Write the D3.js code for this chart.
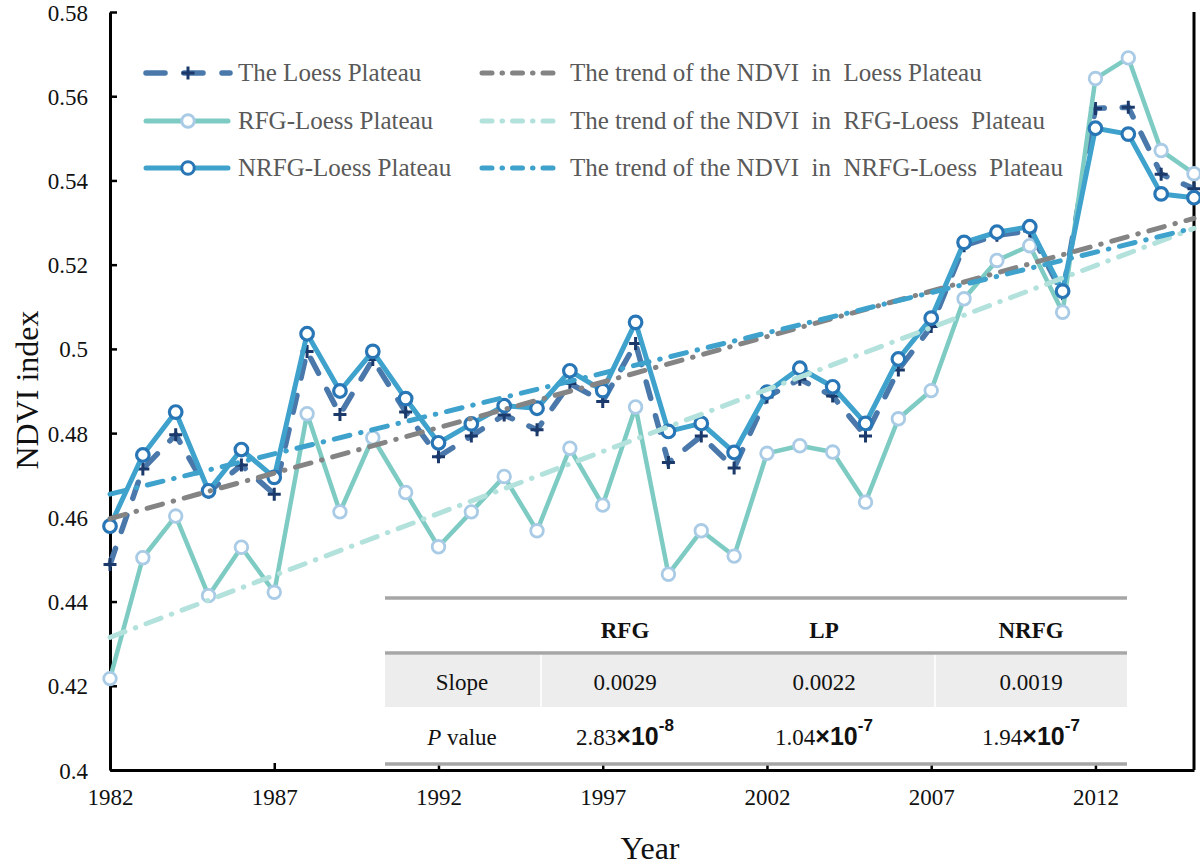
<!DOCTYPE html>
<html>
<head>
<meta charset="utf-8">
<script src="https://cdn.jsdelivr.net/npm/d3@7"></script>
<style>
  html, body { margin: 0; padding: 0; background: #fff; }
  svg { display: block; }
  text { font-family: "Liberation Serif", "Times New Roman", serif; white-space: pre; }
</style>
</head>
<body>
<svg id="chart" width="1200" height="867"></svg>
<script>
// ---------------- data ----------------
const years = [1982,1983,1984,1985,1986,1987,1988,1989,1990,1991,1992,1993,1994,1995,1996,1997,1998,1999,2000,2001,2002,2003,2004,2005,2006,2007,2008,2009,2010,2011,2012,2013,2014,2015];
const lpValues = [0.4488,0.4715,0.4796,0.4660,0.4724,0.4655,0.4994,0.4844,0.4975,0.4850,0.4744,0.4793,0.4843,0.4808,0.4918,0.4875,0.5013,0.4730,0.4793,0.4717,0.4886,0.4928,0.4888,0.4793,0.4950,0.5053,0.5245,0.5270,0.5280,0.5131,0.5571,0.5574,0.5415,0.5380];
const rfgValues = [0.4217,0.4504,0.4603,0.4414,0.4529,0.4422,0.4846,0.4613,0.4789,0.4659,0.4530,0.4613,0.4697,0.4568,0.4764,0.4629,0.4862,0.4465,0.4568,0.4508,0.4752,0.4770,0.4755,0.4636,0.4834,0.4901,0.5119,0.5210,0.5245,0.5087,0.5642,0.5691,0.5471,0.5416];
const nrfgValues = [0.4579,0.4748,0.4850,0.4663,0.4761,0.4695,0.5036,0.4900,0.4994,0.4882,0.4777,0.4822,0.4865,0.4859,0.4948,0.4901,0.5063,0.4804,0.4823,0.4754,0.4897,0.4954,0.4910,0.4823,0.4976,0.5073,0.5253,0.5277,0.5290,0.5137,0.5524,0.5510,0.5368,0.5359];

// trend lines: value at first year and last year
const trendNames = ["LP", "RFG", "NRFG"];
const trendStart = [0.4597, 0.4315, 0.4655];
const trendEnd   = [0.5310, 0.5286, 0.5287];

const xTickValues = [1982,1987,1992,1997,2002,2007,2012];
const yTickValues = [0.4,0.42,0.44,0.46,0.48,0.5,0.52,0.54,0.56,0.58];

const seriesLabels = ["The Loess Plateau", "RFG-Loess Plateau", "NRFG-Loess Plateau"];
const trendLabels = ["The trend of the NDVI  in  Loess Plateau", "The trend of the NDVI  in  RFG-Loess  Plateau", "The trend of the NDVI  in  NRFG-Loess  Plateau"];

const tableCols = ["RFG", "LP", "NRFG"];
const tableSlopes = ["0.0029", "0.0022", "0.0019"];
const tablePMant = ["2.83", "1.04", "1.94"];
const tablePExp = ["-8", "-7", "-7"];

// ---------------- layout ----------------
const svg = d3.select("#chart");
const L = 110, R = 1194, T = 12, B = 770;
const x = d3.scaleLinear().domain([1982, 2015]).range([L, R]);
const y = d3.scaleLinear().domain([0.4, 0.58]).range([B, T]);

const C = {
  lp: "#4a78aa", lpMark: "#1b3a6b",
  rfg: "#7ecbc4", rfgMark: "#a9cbe6",
  nrfg: "#3ea2cc", nrfgMark: "#2876b6",
  tLP: "#848484", tRFG: "#b3e2dd", tNRFG: "#3ea2cc",
  text: "#595959"
};

// axes
const xAxis = d3.axisBottom(x).tickValues(xTickValues).tickFormat(d3.format("d"))
  .tickSizeInner(-7).tickSizeOuter(0).tickPadding(19);
const yAxis = d3.axisLeft(y).tickValues(yTickValues).tickFormat(d3.format("~g"))
  .tickSizeInner(-7).tickSizeOuter(0).tickPadding(22);

const gx = svg.append("g").attr("transform", `translate(0,${B})`).call(xAxis);
const gy = svg.append("g").attr("transform", `translate(${L},0)`).call(yAxis);
[gx, gy].forEach(g => {
  g.attr("font-family", "'Liberation Serif','Times New Roman',serif");
  g.select(".domain").attr("stroke", "#000").attr("stroke-width", 3);
  g.selectAll(".tick line").attr("stroke", "#000").attr("stroke-width", 2.5);
  g.selectAll(".tick text").attr("fill", "#111").attr("font-size", 23);
});
gy.selectAll(".tick text").attr("dy", "0.35em");
// right frame line
svg.append("line").attr("x1", R).attr("x2", R).attr("y1", T).attr("y2", B)
  .attr("stroke", "#000").attr("stroke-width", 3);

// axis titles
svg.append("text").attr("x", 650).attr("y", 859).attr("text-anchor", "middle")
  .attr("font-size", 32).attr("fill", "#111").text("Year");
svg.append("text").attr("transform", `translate(38,390) rotate(-90)`).attr("text-anchor", "middle")
  .attr("font-size", 32).attr("fill", "#111").text("NDVI index");

// ---------------- series ----------------
const line = d3.line().x((d, i) => x(years[i])).y(d => y(d));
const plot = svg.append("g");

const LP_DASH = "17,18";
const TR_DASH = "16,11,0.5,11";

// LP (dashed)
plot.append("path").datum(lpValues).attr("d", line).attr("fill", "none")
  .attr("stroke", C.lp).attr("stroke-width", 5.5).attr("stroke-linecap", "round")
  .attr("stroke-dasharray", LP_DASH);
const plusPath = s => `M${-s},0H${s}M0,${-s}V${s}`;
plot.selectAll(".lpm").data(lpValues).join("path")
  .attr("transform", (d, i) => `translate(${x(years[i])},${y(d)})`)
  .attr("d", plusPath(6.5)).attr("stroke", C.lpMark).attr("stroke-width", 3).attr("fill", "none");

// RFG
plot.append("path").datum(rfgValues).attr("d", line).attr("fill", "none")
  .attr("stroke", C.rfg).attr("stroke-width", 4.5).attr("stroke-linejoin", "round");
plot.selectAll(".rfgm").data(rfgValues).join("circle")
  .attr("cx", (d, i) => x(years[i])).attr("cy", d => y(d)).attr("r", 6.3)
  .attr("fill", "#fff").attr("stroke", C.rfgMark).attr("stroke-width", 2.8);

// NRFG
plot.append("path").datum(nrfgValues).attr("d", line).attr("fill", "none")
  .attr("stroke", C.nrfg).attr("stroke-width", 5).attr("stroke-linejoin", "round");
plot.selectAll(".nrfgm").data(nrfgValues).join("circle")
  .attr("cx", (d, i) => x(years[i])).attr("cy", d => y(d)).attr("r", 6.3)
  .attr("fill", "#fff").attr("stroke", C.nrfgMark).attr("stroke-width", 3.2);

// trend lines
const trendColors = [C.tLP, C.tRFG, C.tNRFG];
trendNames.forEach((n, k) => {
  plot.append("line")
    .attr("x1", x(years[0])).attr("y1", y(trendStart[k]))
    .attr("x2", x(years[years.length - 1])).attr("y2", y(trendEnd[k]))
    .attr("stroke", trendColors[k]).attr("stroke-width", 5)
    .attr("stroke-linecap", "round").attr("stroke-dasharray", TR_DASH);
});

// ---------------- legend ----------------
const legRows = [73, 121, 168];
const lg = svg.append("g");
// left column
seriesLabels.forEach((lab, k) => {
  const yy = legRows[k];
  if (k === 0) {
    lg.append("line").attr("x1", 146).attr("x2", 230).attr("y1", yy).attr("y2", yy)
      .attr("stroke", C.lp).attr("stroke-width", 5.5).attr("stroke-linecap", "round")
      .attr("stroke-dasharray", "19,19");
    lg.append("path").attr("transform", `translate(188,${yy})`).attr("d", plusPath(6.5))
      .attr("stroke", C.lpMark).attr("stroke-width", 3);
  } else {
    const col = k === 1 ? C.rfg : C.nrfg;
    const mc = k === 1 ? C.rfgMark : C.nrfgMark;
    lg.append("line").attr("x1", 146).attr("x2", 228).attr("y1", yy).attr("y2", yy)
      .attr("stroke", col).attr("stroke-width", 5).attr("stroke-linecap", "round");
    lg.append("circle").attr("cx", 188).attr("cy", yy).attr("r", 6.3)
      .attr("fill", "#fff").attr("stroke", mc).attr("stroke-width", 3);
  }
  lg.append("text").attr("x", 238).attr("y", yy).attr("dy", "0.33em")
    .attr("font-size", 25).attr("fill", C.text).text(lab);
});
// right column
trendLabels.forEach((lab, k) => {
  const yy = legRows[k];
  lg.append("line").attr("x1", 482).attr("x2", 563).attr("y1", yy).attr("y2", yy)
    .attr("stroke", trendColors[k]).attr("stroke-width", 5)
    .attr("stroke-linecap", "round").attr("stroke-dasharray", "10,10,0.5,10");
  lg.append("text").attr("x", 570).attr("y", yy).attr("dy", "0.33em")
    .attr("font-size", 25).attr("fill", C.text).text(lab);
});

// ---------------- table ----------------
const tb = svg.append("g");
const tx0 = 385, tx1 = 1127;
const colCenters = [625, 824, 1031];
const labelCenter = 462;
// slope row background
tb.append("rect").attr("x", tx0).attr("y", 655).attr("width", tx1 - tx0).attr("height", 52)
  .attr("fill", "#ededed");
[541, 935].forEach(sx => tb.append("line").attr("x1", sx).attr("x2", sx)
  .attr("y1", 655).attr("y2", 707).attr("stroke", "#fff").attr("stroke-width", 1.5));
// rules
[598, 653, 764].forEach(ly => tb.append("line").attr("x1", tx0).attr("x2", tx1)
  .attr("y1", ly).attr("y2", ly).attr("stroke", "#a6a6a6").attr("stroke-width", 3.5));
// header
tableCols.forEach((c, k) => tb.append("text").attr("x", colCenters[k]).attr("y", 630)
  .attr("dy", "0.35em").attr("text-anchor", "middle").attr("font-weight", "bold")
  .attr("font-size", 23).attr("fill", "#111").text(c));
// slope row
tb.append("text").attr("x", labelCenter).attr("y", 682).attr("dy", "0.35em")
  .attr("text-anchor", "middle").attr("font-size", 23).attr("fill", "#111").text("Slope");
tableSlopes.forEach((s, k) => tb.append("text").attr("x", colCenters[k]).attr("y", 682)
  .attr("dy", "0.35em").attr("text-anchor", "middle").attr("font-size", 23).attr("fill", "#111").text(s));
// P row
const pl = tb.append("text").attr("x", labelCenter).attr("y", 737).attr("dy", "0.35em")
  .attr("text-anchor", "middle").attr("font-size", 23).attr("fill", "#111");
pl.append("tspan").attr("font-style", "italic").text("P");
pl.append("tspan").text(" value");
tablePMant.forEach((m, k) => {
  const t = tb.append("text").attr("x", colCenters[k]).attr("y", 737).attr("dy", "0.35em")
    .attr("text-anchor", "middle").attr("font-size", 23).attr("fill", "#111");
  t.append("tspan").text(m);
  t.append("tspan").attr("font-family", "'Liberation Sans', Arial, sans-serif")
    .attr("font-size", 25).attr("font-weight", "bold").text("×10");
  t.append("tspan").attr("font-family", "'Liberation Sans', Arial, sans-serif")
    .attr("font-size", 17).attr("font-weight", "bold").attr("dy", "-0.8em").text(tablePExp[k]);
});
</script>
</body>
</html>
